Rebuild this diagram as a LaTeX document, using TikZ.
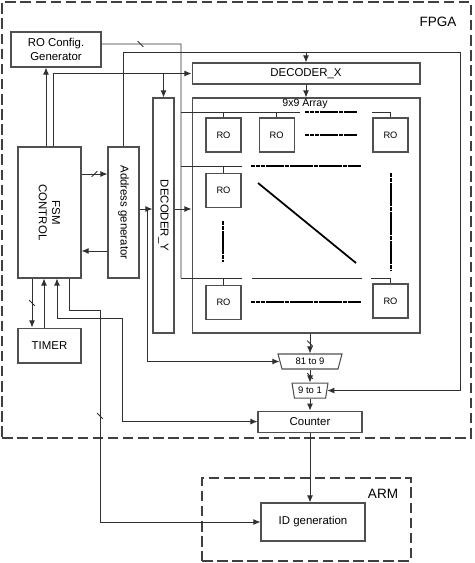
\documentclass[tikz,border=0pt]{standalone}
\usepackage{fontspec}
\setmainfont{Liberation Sans}
\usepackage{tikz}
\usetikzlibrary{arrows.meta, positioning, shapes.geometric}
\definecolor{frameGray}{HTML}{505050}
\definecolor{lineDark}{HTML}{303030}

\begin{document}
\begin{tikzpicture}[x=0.02cm, y=-0.02cm,
  box/.style={draw=frameGray, line width=0.6pt, inner sep=1pt, align=center,
              font=\fontsize{6.5}{7.5}\selectfont},
  vtext/.style={rotate=-90, align=center, inner sep=0pt,
                font=\fontsize{6.5}{7.5}\selectfont},
  robox/.style={draw=frameGray, line width=0.6pt, minimum width=0.7cm,
                minimum height=0.68cm, inner sep=0pt, font=\fontsize{5.3}{6}\selectfont},
  mux/.style={draw=frameGray, line width=0.6pt, trapezium, shape border rotate=180,
              trapezium stretches=true, inner sep=0pt, font=\fontsize{5.4}{6}\selectfont},
  region/.style={draw=black!75, line width=1.1pt, dash pattern=on 6pt off 2.6pt},
  tag/.style={font=\fontsize{7.7}{9}\selectfont, inner sep=0pt},
  wire/.style={draw=lineDark, line width=0.55pt},
  arr/.style={wire, -{Latex[length=4pt, width=3.4pt]}},
  arrboth/.style={wire, {Latex[length=4pt, width=3.4pt]}-{Latex[length=4pt, width=3.4pt]}},
  dots/.style={draw=black, line width=1pt, dash pattern=on 2.5pt off 0.25pt},
  bslash/.style={draw=lineDark, line width=0.5pt, inner sep=0pt, minimum width=0pt,
                 minimum height=0.16cm, rotate=45},
  fslash/.style={bslash, rotate=-90}
]
  \useasboundingbox (0,0) rectangle (474,563);

  % frames
  \node[region, minimum width=9.38cm, minimum height=8.72cm] (fpga) at (236.5,220) {};
  \node[tag] (fpgalbl) at (438,22) {FPGA};
  \node[region, minimum width=4.18cm, minimum height=1.66cm] (arm) at (306.5,519.5) {};
  \node[tag] (armlbl) at (383,494) {ARM};

  % control side
  \node[box, minimum width=1.8cm, minimum height=0.7cm] (rocfg) at (56,49.5) {RO Config.\\Generator};
  \node[box, minimum width=1.26cm, minimum height=2.62cm] (fsm) at (49.5,212.5) {};
  \node[vtext] (fsmtxt) at (fsm) {FSM\\CONTROL};
  \node[box, minimum width=1.26cm, minimum height=0.7cm, below=0.98cm of fsm] (timer) {TIMER};
  \node[box, minimum width=0.62cm, minimum height=2.62cm] (addr) at (123.5,212.5) {};
  \node[vtext] (addrtxt) at (addr) {Address generator};

  % decoders and array
  \node[box, minimum width=4.56cm, minimum height=0.42cm] (decx) at (306,73.5) {DECODER\_X};
  \node[box, minimum width=0.42cm, minimum height=4.7cm] (decy) at (163.5,215.5) {};
  \node[vtext] (decytxt) at (decy) {DECODER\_Y};
  \node[box, minimum width=4.56cm, minimum height=4.7cm] (array) at (306,215.5) {};
  \node[font=\fontsize{6}{7}\selectfont, inner sep=0pt] (arraylbl) at (305,104) {9x9 Array};

  \node[robox] (ro11) at (223.5,135) {RO};
  \node[robox, right=0.34cm of ro11] (ro12) {RO};
  \node[robox] (ro19) at (390.5,135) {RO};
  \node[robox, below=0.4cm of ro11] (ro21) {RO};
  \node[robox] (ro91) at (223.5,302.5) {RO};
  \node[robox] (ro99) at (390.5,301) {RO};

  % readout chain
  \node[mux, trapezium angle=73, minimum width=1.28cm, minimum height=0.3cm] (mux81) at (310,361.5) {81 to 9};
  \node[mux, trapezium angle=75, minimum width=0.72cm, minimum height=0.3cm, below=0.26cm of mux81] (mux9) {9 to 1};
  \node[box, minimum width=2.08cm, minimum height=0.42cm, below=0.24cm of mux9] (counter) {Counter};
  \node[box, minimum width=2.08cm, minimum height=0.76cm] (idgen) at (313,522) {ID generation};

  % RO config bus into the rows
  \coordinate (cfgtop) at (181,44);
  \coordinate (row1) at (181,112);
  \coordinate (row2) at (181,166);
  \coordinate (row9) at (181,278);
  \draw[wire] ([yshift=0.11cm]rocfg.east) -- (cfgtop) node[pos=0.49, bslash] {} -- (row9);
  \draw[wire] (row1) -- (300,112);
  \draw[wire] (372,112) -| (ro19.north);
  \draw[wire] (ro11.north |- row1) -- (ro11.north);
  \draw[wire] (ro12.north |- row1) -- (ro12.north);
  \draw[wire] (row2) -- (242,166);
  \draw[wire] (ro21.north |- row2) -- (ro21.north);
  \draw[wire] (row9) -- (242,278);
  \draw[wire] (ro91.north |- row9) -- (ro91.north);
  \draw[wire] (252,278) -- (362,278);
  \draw[wire] (371,278) -| (ro99.north);
  \draw[dots] (305,112) -- (357,112);
  \draw[dots] (305,135) -- (357,135);
  \draw[dots] (251,166) -- (361,166);
  \draw[dots] (251,302) -- (361,302);
  \draw[dots] (223,221) -- (223,262);
  \draw[dots] (391,173) -- (391,271);
  \draw[line width=1pt] (258,183) -- (356,263);

  % address / decoder connections
  \coordinate (abus) at (460,52);
  \draw[arr] (addr.north) |- (abus) |- (mux9.east);
  \draw[arr] (decx.north |- abus) -- (decx.north);
  \draw[arr] (decx.south) -- (decx.south |- array.north);
  \draw[arr] ([xshift=-0.07cm]fsm.north) -- ([xshift=-0.07cm]fsm.north |- rocfg.south);
  \draw[arr] ([xshift=0.07cm]fsm.north) |- (decx.west);
  \draw[arr] (decy.north |- decx.west) -- (decy.north);
  \draw[arr] ([yshift=0.77cm]fsm.east) -- ([yshift=0.77cm]fsm.east -| addr.west) node[midway, fslash] {};
  \draw[arr] ([yshift=-0.77cm]addr.west) -- ([yshift=-0.77cm]addr.west -| fsm.east);
  \coordinate (ysel) at (147,209);
  \draw[arr] (addr.east |- ysel) -- (decy.west |- ysel);
  \draw[arr] (ysel) |- (mux81.west);
  \draw[arr] (decy.east |- ysel) -- (array.west |- ysel);

  % readout
  \draw[arr] (mux81.north |- array.south) -- (mux81.north) node[midway, bslash] {};
  \draw[arr] (mux81.south) -- (mux9.north) node[midway, bslash] {};
  \draw[arr] (mux9.south) -- (counter.north);
  \draw[arr] (counter.south) -- (counter.south |- idgen.north);

  % fsm, timer, counter, id
  \draw[arr] ([xshift=-0.35cm]fsm.south) -- ([xshift=-0.35cm]fsm.south |- timer.north) node[midway, bslash] {};
  \draw[arr] ([xshift=-0.11cm]timer.north) -- ([xshift=-0.11cm]timer.north |- fsm.south);
  \coordinate (cntbus) at (122,318);
  \draw[arrboth] ([xshift=0.15cm]fsm.south) |- (cntbus) |- (counter.west);
  \coordinate (idbus) at (100,310);
  \draw[arr] ([xshift=0.39cm]fsm.south) |- (idbus) -- (idbus |- idgen.west) node[midway, bslash] {} -- (idgen.west);
\end{tikzpicture}
\end{document}
